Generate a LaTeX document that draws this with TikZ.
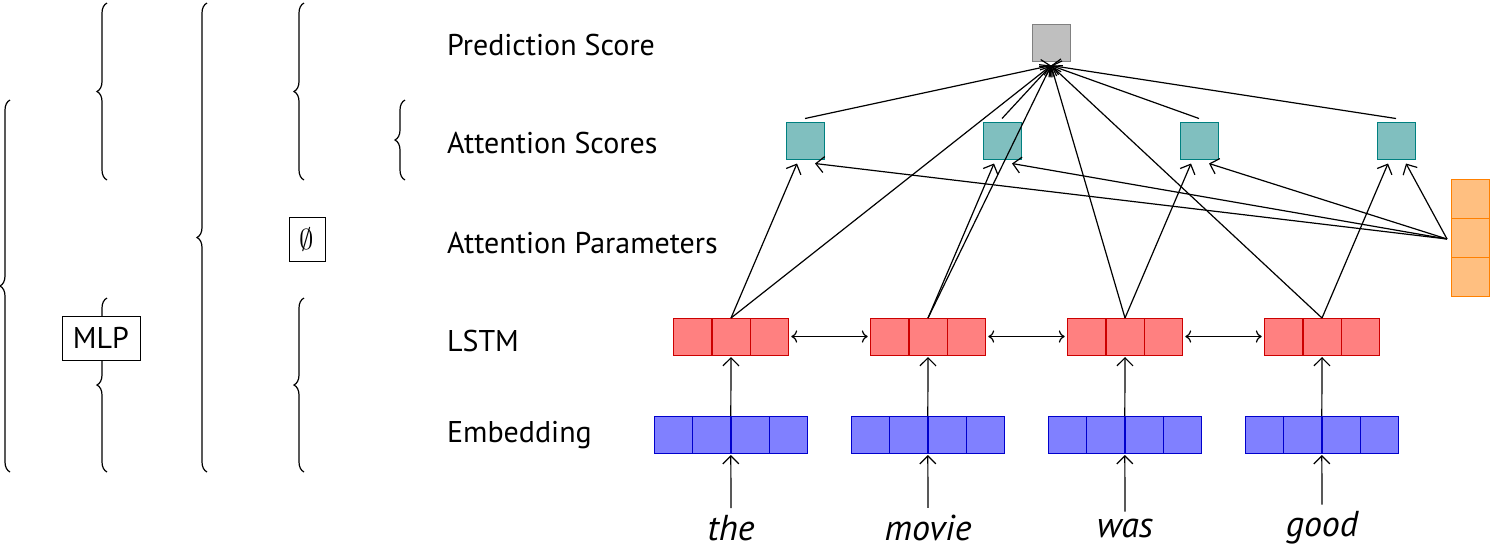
\documentclass[tikz,border=0pt]{standalone}
\usepackage{fontspec}
\setmainfont{PT Sans}
\usetikzlibrary{decorations.pathreplacing,arrows.meta}
\pgfdeclarelayer{fg}
\pgfsetlayers{main,fg}
\begin{document}
\begin{tikzpicture}[x=0.5pt,y=-0.5pt,
 lbl/.style={anchor=west,font=\fontsize{15}{17}\selectfont},
 wd/.style={font=\fontsize{18}{20}\selectfont\itshape},
 cell/.style={draw,minimum width=19pt,minimum height=18.5pt,inner sep=0,outer sep=0},
 emb/.style={cell,fill=blue!50,draw=blue!80!black},
 lstm/.style={cell,fill=red!50,draw=red!80!black},
 att/.style={cell,fill=teal!50,draw=teal},
 par/.style={cell,minimum height=19.5pt,fill=orange!50,draw=orange},
 pred/.style={cell,fill=gray!50,draw=gray},
 br/.style={decorate,decoration={brace,amplitude=5pt,raise=0pt},semithick},
 ar/.style={-{Straight Barb[length=4pt]},semithick},
 box/.style={draw,font=\fontsize{15}{17}\selectfont,inner sep=3pt}]
\useasboundingbox (0,0) rectangle (1491,554);
% braces (pointing left)
\draw[br] (10,472) -- (10,100);
\draw[br] (107,180) -- (107,3);
\draw[br] (107,472) -- (107,298);
\draw[br] (207,472) -- (207,3);
\draw[br] (304,180) -- (304,3);
\draw[br] (304,472) -- (304,298);
\draw[br] (405,180) -- (405,100);
\node[box,fill=white,minimum width=39pt,minimum height=22pt] (mlp) at (101,338) {MLP};
\node[box,minimum width=18pt,minimum height=22pt] (empty) at (307,239) {$\emptyset$};
% labels
\node[lbl] (l1) at (440,45) {Prediction Score};
\node[lbl] (l2) at (440,143) {Attention Scores};
\node[lbl] (l3) at (440,243) {Attention Parameters};
\node[lbl] (l4) at (440,341) {LSTM};
\node[lbl] (l5) at (440,435) {Embedding};
\node[pred] (p) at (1051,43) {};
\foreach \k/\y in {1,2,3}
 \node[par] (o\k) at (1470,\y*39+160) {};
\coordinate (om) at (1447,239);
\foreach \i/\x/\w in {1/731/the,2/928/movie,3/1125/was,4/1322/good}{
 \node[wd] (w\i) at (\x,528) {\w};
 \foreach \k/\d in {1/-57.5,2/-19.2,3/19.2,4/57.5}
  \node[emb] (e\i\k) at (\x+\d,434.5) {};
 \foreach \k/\d in {1/-38.3,2/0,3/38.3}
  \node[lstm] (s\i\k) at (\x+\d,336.5) {};
 \node[att] (a\i) at (\x+74,141) {};
 \begin{pgfonlayer}{fg}
 \draw[ar] (w\i.north) -- ([yshift=-1pt]e\i2.south east);
 \draw[ar] (e\i2.north east) -- ([yshift=-1pt]s\i2.south);
 \draw[ar] (s\i2.north) -- ([xshift=-4pt,yshift=-2pt]a\i.south);
 \draw[ar] (s\i2.north) -- ([yshift=-2pt]p.south);
 \draw[ar] ([yshift=2pt]a\i.north) -- ([yshift=-2pt]p.south);
 \draw[ar] (om) -- ([xshift=5pt,yshift=-2pt]a\i.south);
 \end{pgfonlayer}
}
\draw[<->,semithick] ([xshift=1.5pt]s13.east) -- ([xshift=-1.5pt]s21.west);
\draw[<->,semithick] ([xshift=1.5pt]s23.east) -- ([xshift=-1.5pt]s31.west);
\draw[<->,semithick] ([xshift=1.5pt]s33.east) -- ([xshift=-1.5pt]s41.west);
\end{tikzpicture}
\end{document}
